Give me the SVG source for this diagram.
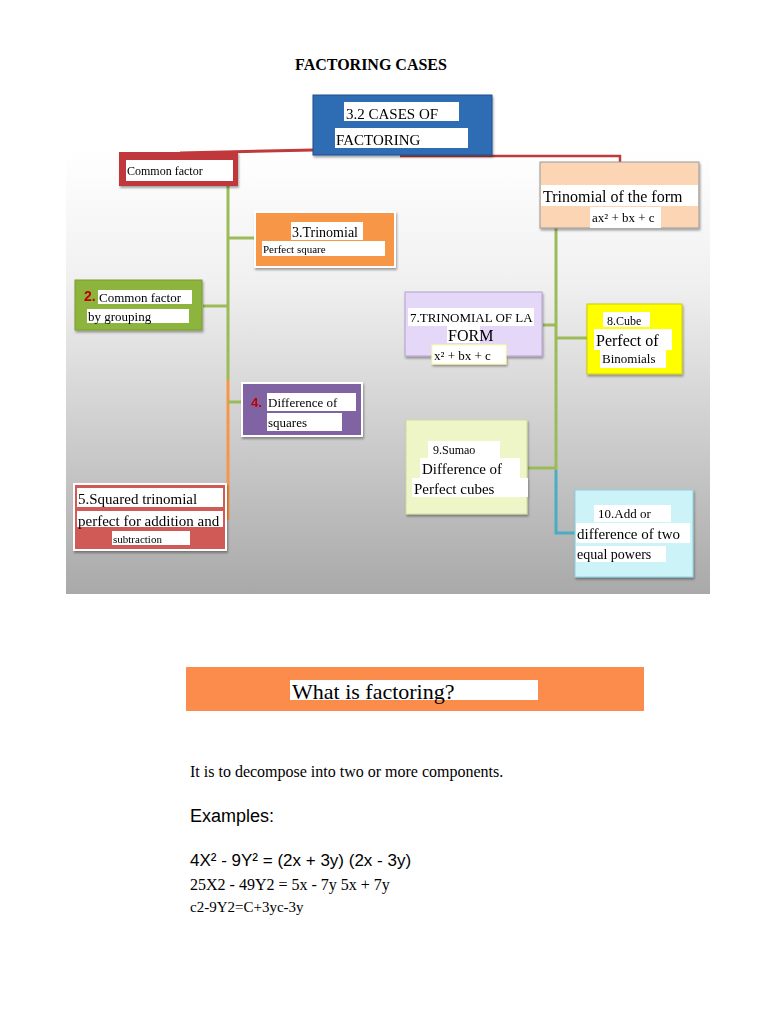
<svg xmlns="http://www.w3.org/2000/svg" width="768" height="1024" viewBox="0 0 768 1024">
<defs>
<linearGradient id="bg" x1="0" y1="0" x2="0" y2="1"><stop offset="0" stop-color="#ffffff"/><stop offset="0.3" stop-color="#f0f0f0"/><stop offset="1" stop-color="#a9a9a9"/></linearGradient>
<filter id="sh"><feDropShadow dx="1" dy="2" stdDeviation="1.2" flood-opacity="0.35"/></filter>
</defs>
<style>
text{font-family:"Liberation Serif","Times New Roman",serif;fill:#000}
.s{font-family:"Liberation Sans",Arial,sans-serif}
.w{fill:#fff}
.n{filter:url(#sh)}
.r{fill:#c00000;font-family:"Liberation Sans",Arial,sans-serif;font-weight:bold}
</style>
<rect width="768" height="1024" fill="#fff"/>
<text x="371" y="70" text-anchor="middle" font-size="16" font-weight="bold">FACTORING CASES</text>
<rect x="66" y="150" width="644" height="444" fill="url(#bg)"/>
<g id="connectors" fill="none" stroke-width="3">
<path d="M180 153 L313 150" stroke="#c0393b"/>
<path d="M400 156 L620 156 L620 162" stroke="#c0393b" stroke-width="2.5"/>
<path d="M228 186 V380" stroke="#9bbb59"/>
<path d="M228 380 V520" stroke="#f79646"/>
<path d="M228 238 H255 M203 306 H228 M228 402 H243" stroke="#9bbb59"/>
<path d="M556 228 V470" stroke="#9bbb59"/>
<path d="M556 470 V533 H575" stroke="#4bacc6"/>
<path d="M543 325 H556 M556 338 H587 M528 468 H556" stroke="#9bbb59"/>
</g>
<g id="top" class="n"><rect x="313" y="95" width="179" height="60" fill="#2e6db4" stroke="#1f4e8c"/>
<rect class="w" x="344" y="102" width="115" height="19"/><text x="346" y="119" font-size="15">3.2 CASES OF</text>
<rect class="w" x="335" y="128" width="133" height="20"/><text x="336" y="145" font-size="15">FACTORING</text></g>
<g id="common" class="n"><rect x="119" y="152" width="119" height="34" fill="#c0393b"/>
<rect class="w" x="126" y="160" width="107" height="21"/><text x="127" y="175" font-size="12">Common factor</text></g>
<g id="trinomial" class="n"><rect x="255" y="212" width="140" height="55" fill="#f79646" stroke="#fff" stroke-width="2"/>
<rect class="w" x="291" y="222" width="72" height="18"/><text x="292" y="237" font-size="14">3.Trinomial</text>
<rect class="w" x="262" y="241" width="123" height="15"/><text x="263" y="253" font-size="11">Perfect square</text></g>
<g id="grouping" class="n"><rect x="75" y="280" width="127" height="50" fill="#8db43e" stroke="#7a9c33"/>
<text class="r" x="84" y="301" font-size="14">2.</text>
<rect class="w" x="98" y="290" width="94" height="14"/><text x="99" y="302" font-size="13">Common factor</text>
<rect class="w" x="87" y="309" width="102" height="14"/><text x="88" y="321" font-size="13">by grouping</text></g>
<g id="squares" class="n"><rect x="242" y="383" width="120" height="53" fill="#8064a2" stroke="#fff" stroke-width="2"/>
<text class="r" x="251" y="407" font-size="13">4.</text>
<rect class="w" x="267" y="393" width="89" height="18"/><text x="268" y="407" font-size="13">Difference of</text>
<rect class="w" x="267" y="413" width="75" height="18"/><text x="268" y="427" font-size="13">squares</text></g>
<g id="squared" class="n"><rect x="74" y="484" width="152" height="66" fill="#d05a57" stroke="#fff" stroke-width="2"/>
<rect class="w" x="77" y="488" width="146" height="19"/><text x="78" y="504" font-size="15">5.Squared trinomial</text>
<rect class="w" x="77" y="511" width="146" height="16"/><text x="78" y="526" font-size="15">perfect for addition and</text>
<rect class="w" x="112" y="531" width="78" height="14"/><text x="113" y="543" font-size="11">subtraction</text></g>
<g id="form" class="n"><rect x="540" y="162" width="159" height="66" fill="#fcd5b4" stroke="#999"/>
<rect class="w" x="541" y="185" width="157" height="21"/><text x="543" y="202" font-size="16">Trinomial of the form</text>
<rect class="w" x="590" y="207" width="71" height="21"/><text x="592" y="222" font-size="13">ax² + bx + c</text></g>
<g id="seven" class="n"><rect x="405" y="292" width="137" height="64" fill="#e5d7f7" stroke="#b4a0d0"/>
<rect class="w" x="408" y="308" width="126" height="18"/><text x="410" y="322" font-size="13">7.TRINOMIAL OF LA</text>
<rect class="w" x="447" y="326" width="33" height="17"/><text x="448" y="341" font-size="16">FORM</text>
<rect class="w" x="432" y="345" width="74" height="19" stroke="#ffff99"/><text x="434" y="360" font-size="13">x² + bx + c</text></g>
<g id="eight" class="n"><rect x="587" y="304" width="95" height="70" fill="#ffff00" stroke="#cccc00"/>
<rect class="w" x="603" y="312" width="47" height="15"/><text x="607" y="325" font-size="12">8.Cube</text>
<rect class="w" x="594" y="329" width="78" height="21"/><text x="596" y="346" font-size="16">Perfect of</text>
<rect class="w" x="600" y="350" width="66" height="18"/><text x="602" y="363" font-size="13">Binomials</text></g>
<g id="nine" class="n"><rect x="406" y="420" width="121" height="94" fill="#eef6c8" stroke="#d0dca0"/>
<rect class="w" x="428" y="441" width="72" height="17"/><text x="433" y="454" font-size="12">9.Sumao</text>
<rect class="w" x="420" y="458" width="100" height="20"/><text x="422" y="474" font-size="15">Difference of</text>
<rect class="w" x="412" y="478" width="116" height="19"/><text x="414" y="494" font-size="15">Perfect cubes</text></g>
<g id="ten" class="n"><rect x="575" y="490" width="118" height="87" fill="#ccf4f8" stroke="#8fd0dc"/>
<rect class="w" x="594" y="505" width="77" height="17"/><text x="598" y="518" font-size="13">10.Add or</text>
<rect class="w" x="576" y="523" width="114" height="20"/><text x="577" y="539" font-size="15">difference of two</text>
<rect class="w" x="576" y="546" width="90" height="16"/><text x="577" y="559" font-size="14">equal powers</text></g>
<g id="what"><rect x="186" y="667" width="458" height="44" fill="#fb8c4c"/>
<rect class="w" x="290" y="680" width="248" height="20"/><text x="292" y="699" font-size="22">What is factoring?</text></g>
<text x="190" y="777" font-size="16">It is to decompose into two or more components.</text>
<text class="s" x="190" y="822" font-size="18">Examples:</text>
<text class="s" x="190" y="866" font-size="17">4X² - 9Y² = (2x + 3y) (2x - 3y)</text>
<text x="190" y="890" font-size="16">25X2 - 49Y2 = 5x - 7y 5x + 7y</text>
<text x="190" y="912" font-size="15">c2-9Y2=C+3yc-3y</text>
</svg>
